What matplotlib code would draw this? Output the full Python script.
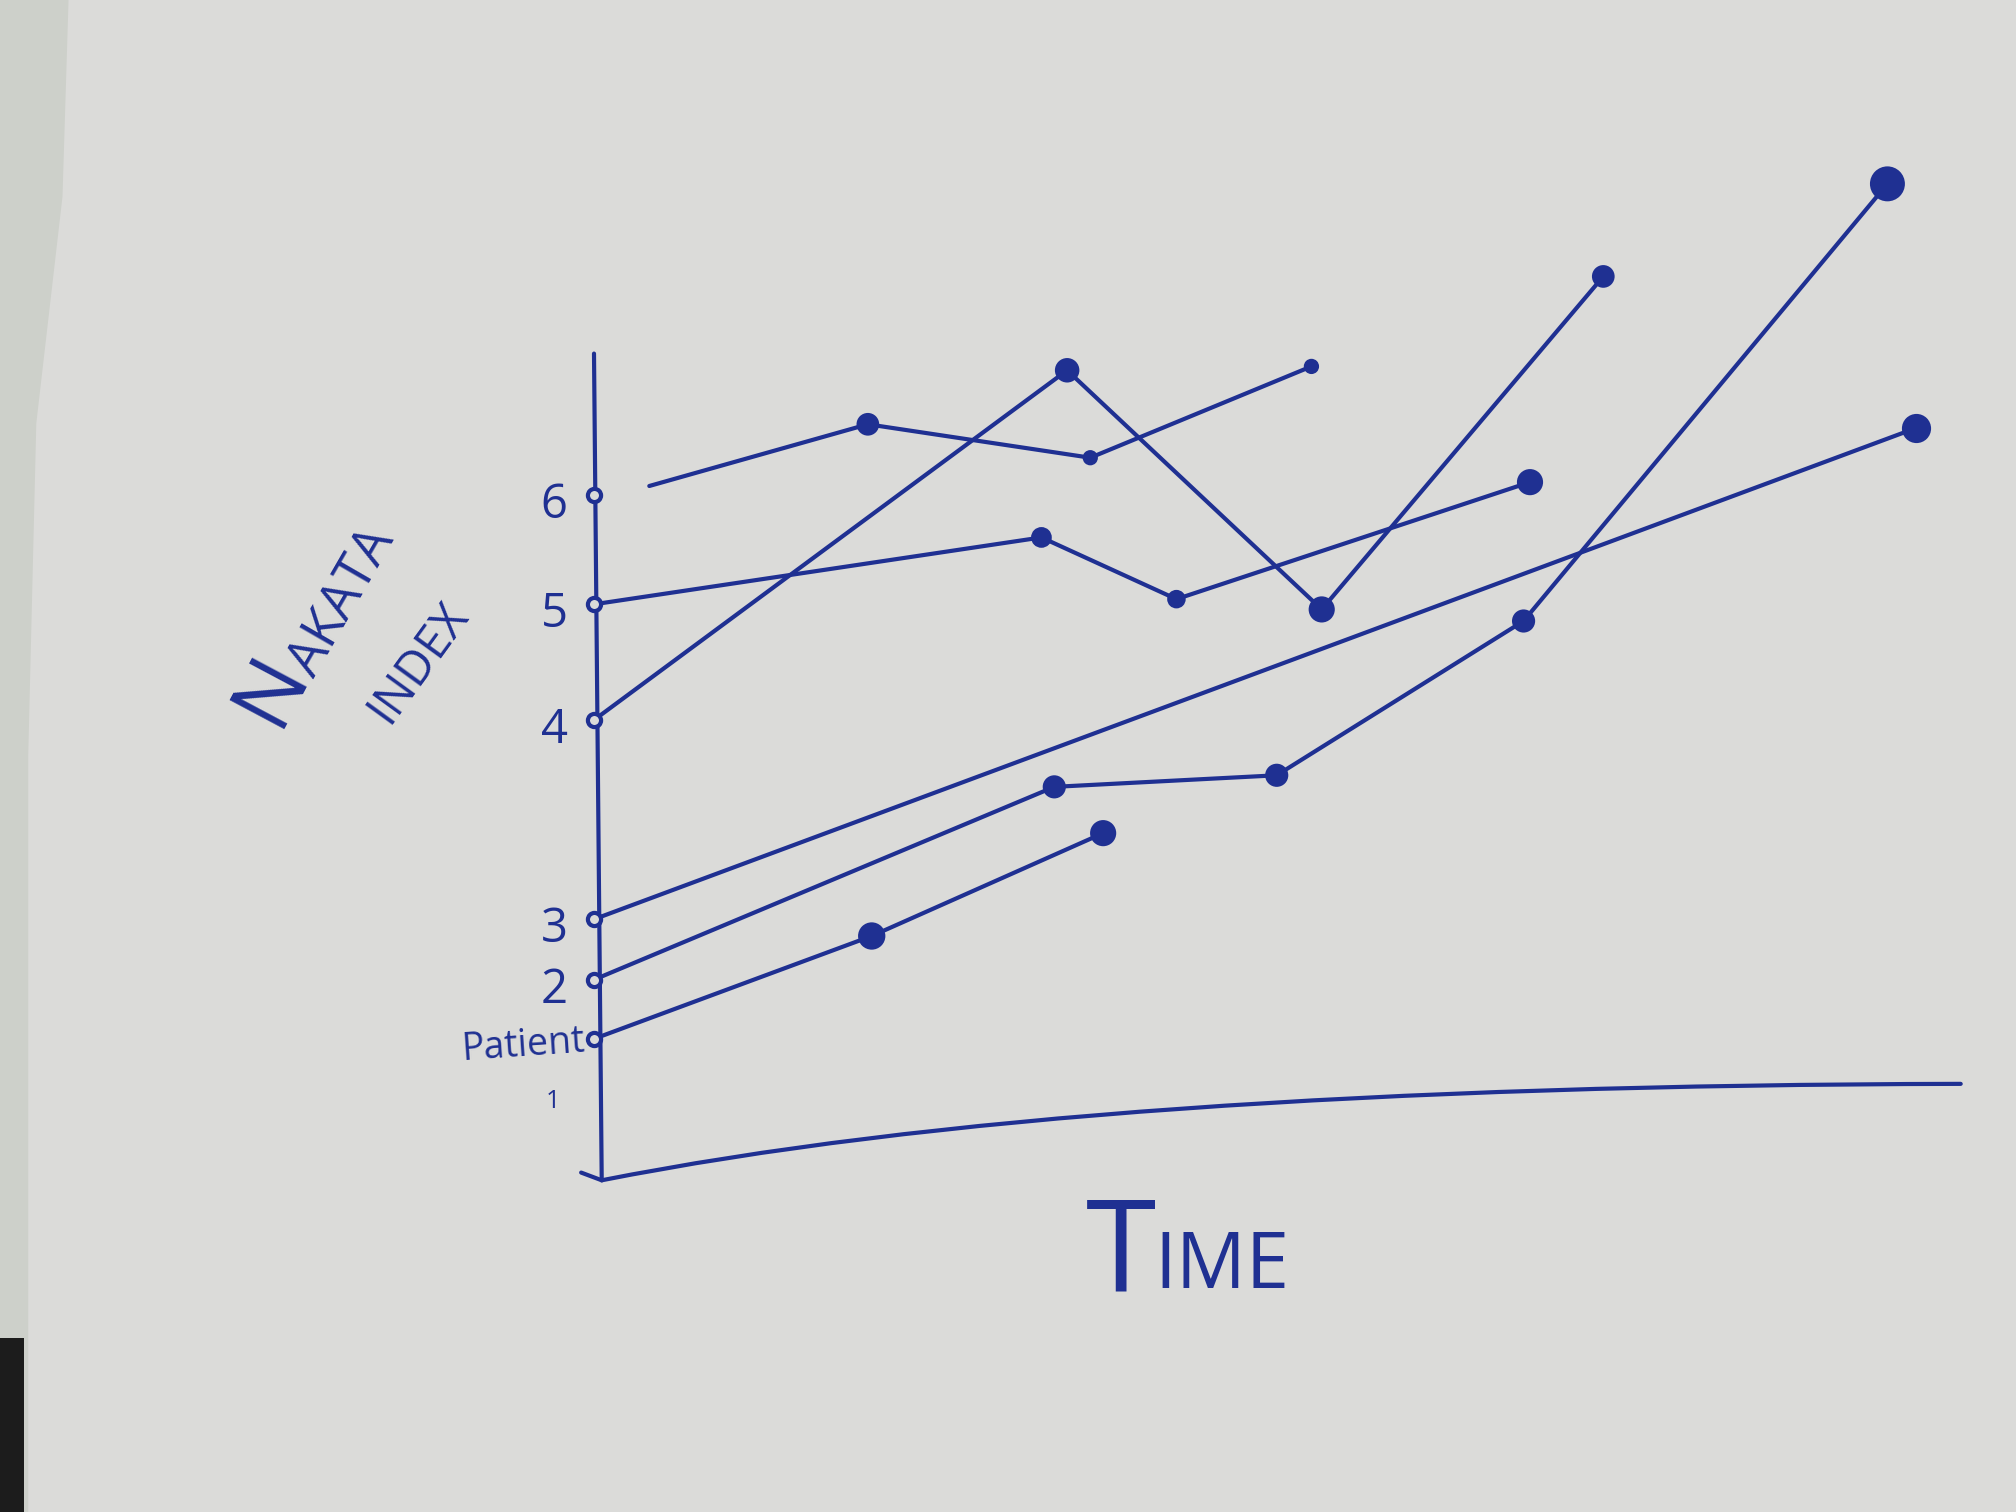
import matplotlib.pyplot as plt
from matplotlib.path import Path
from matplotlib.patches import PathPatch
import numpy as np

plt.rcParams['font.family'] = ['Open Sans', 'DejaVu Sans']

ink = '#1f3092'
paper = '#dbdbd9'

# time (arbitrary units) and Nakata index values
p1_t = [0.0, 2.16, 3.96]
p1_y = [0.92, 1.72, 2.52]

p2_t = [0.0, 3.58, 5.31, 7.23, 10.06]
p2_y = [1.38, 2.88, 2.97, 4.17, 7.57]

p3_t = [0.0, 10.28]
p3_y = [1.85, 5.67]

p4_t = [0.0, 3.68, 5.66, 7.85]
p4_y = [3.40, 6.12, 4.26, 6.85]

p5_t = [0.0, 3.48, 4.53, 7.28]
p5_y = [4.30, 4.82, 4.34, 5.25]

p6_t = [0.43, 2.13, 3.86, 5.58]
p6_y = [5.22, 5.70, 5.44, 6.15]

# where each patient sits on the index axis
start_y = [0.92, 1.38, 1.85, 3.40, 4.30, 5.15]
start_labels = ['Patient', '2', '3', '4', '5', '6']

series = [(p1_t, p1_y), (p2_t, p2_y), (p3_t, p3_y),
          (p4_t, p4_y), (p5_t, p5_y), (p6_t, p6_y)]

# marker sizes (pt^2) per point, first point of each series sits on the axis
dot_sizes = [
    [0, 330, 300],
    [0, 230, 230, 230, 560],
    [0, 380],
    [0, 260, 300, 220],
    [0, 180, 140, 300],
    [60, 220, 90, 90],
]

# hand drawn axis strokes
yaxis_t = [0.0, 0.06]
yaxis_y = [6.25, -0.18]
xaxis_hook_t = [-0.10, 0.06]
xaxis_hook_y = [-0.12, -0.18]
xaxis_curve = [(0.06, -0.18), (3.8, 0.56), (10.63, 0.57)]

fig = plt.figure(figsize=(20.16, 15.12), dpi=100)
fig.patch.set_facecolor(paper)
ax = fig.add_axes([0, 0, 1, 1])
ax.set_facecolor(paper)
ax.set_xlim(-4.62, 11.06)
ax.set_ylim(-2.76, 9.0)
ax.axis('off')

# table behind the sheet on the left
edge = [(0, 1), (0.034, 1), (0.031, 0.87), (0.018, 0.72), (0.014, 0.5), (0.014, 0), (0, 0)]
ax.fill(*zip(*edge), color='#cdd0ca', lw=0, transform=ax.transAxes, zorder=0)
ax.fill([0, 0.012, 0.012, 0], [0, 0, 0.115, 0.115], color='#1c1c1c', lw=0,
        transform=ax.transAxes, zorder=0)

ax.plot(yaxis_t, yaxis_y, color=ink, lw=3.0, solid_capstyle='round')
ax.plot(xaxis_hook_t, xaxis_hook_y, color=ink, lw=3.0, solid_capstyle='round')
curve = Path(xaxis_curve, [Path.MOVETO, Path.CURVE3, Path.CURVE3])
ax.add_patch(PathPatch(curve, facecolor='none', edgecolor=ink, lw=3.0, capstyle='round'))

for (t, y), sz in zip(series, dot_sizes):
    ax.plot(t, y, color=ink, lw=3.0, solid_capstyle='round', zorder=3)
    ax.scatter(t[1:], y[1:], s=sz[1:], color=ink, zorder=4, edgecolors=ink, linewidths=1.5)

# small circles on the axis
ax.scatter(np.zeros(len(start_y)), start_y, s=90, facecolors=paper,
           edgecolors=ink, linewidths=3, zorder=5)

# tick labels
for y, lab in zip(start_y, start_labels):
    if lab == 'Patient':
        ax.text(-0.55, y - 0.05, lab, color=ink, fontsize=27, ha='center', va='center',
                rotation=4)
        ax.text(-0.32, 0.43, '1', color=ink, fontsize=18, ha='center', va='center')
    else:
        ax.text(-0.31, y - 0.08, lab, color=ink, fontsize=34, ha='center', va='center')

ax.text(-2.50, 3.63, 'N', color=ink, fontsize=62, rotation=62,
        ha='center', va='center')
ax.text(-1.96, 4.32, 'AKATA', color=ink, fontsize=38, rotation=60,
        ha='center', va='center')
ax.text(-1.37, 3.85, 'INDEX', color=ink, fontsize=34, rotation=54,
        ha='center', va='center')
ax.text(4.10, -0.78, 'T', color=ink, fontsize=92, ha='center', va='center')
ax.text(4.36, -0.86, 'IME', color=ink, fontsize=56, ha='left', va='center')

fig.savefig('out.png', dpi=100, facecolor=paper)
